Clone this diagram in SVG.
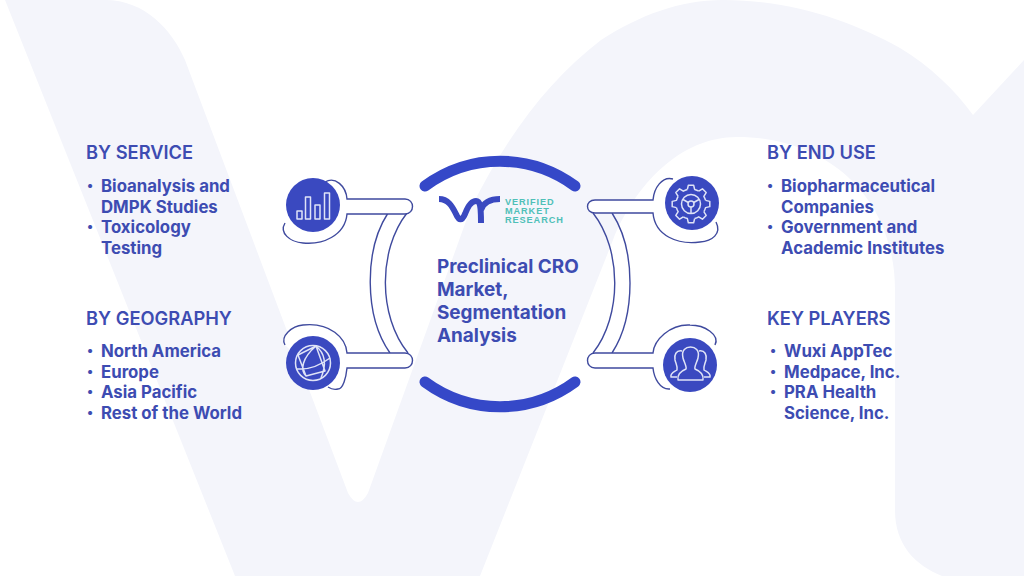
<svg xmlns="http://www.w3.org/2000/svg" xmlns:xlink="http://www.w3.org/1999/xlink" width="1024" height="576" viewBox="0 0 1024 576">
<style>
text{font-family:"Inter","Liberation Sans",sans-serif;fill:#3d4cb2}
.h{font-size:18.3px;font-weight:600}
.l{font-size:16.8px;font-weight:700}
.b{font-size:13px;font-weight:700}
.t{font-size:18.9px;font-weight:700}
.o{fill:#fff;stroke:#3f4a9e;stroke-width:1.4}
.n{fill:none;stroke:#3f4a9e;stroke-width:1.4}
.d{fill:#3a49c0}
.i{fill:none;stroke:#dfe3f7;stroke-width:1.5;stroke-linejoin:round}
.a{fill:none;stroke:#3548c8;stroke-width:11;stroke-linecap:round}
.v{font-family:"Liberation Sans",sans-serif;font-size:9.2px;letter-spacing:.9px;font-weight:700;fill:#4fc0b8}
</style>
<defs>
<path id="tooth" d="M14.55 -3.63L18.8 -2.64L18.8 2.64L14.55 3.63A15 15 0 0 1 12.86 7.73"/>
</defs>
<rect width="1024" height="576" fill="#fff"/>
<path id="bg" fill="#f4f5fb" d="M5 0H105C145 0 172 30 185 60L348 493Q358 511 368 493L470 210C507 135 549 80 601 40C640 15 680 0 723 0C790 0 850 20 900 48C930 66 955 90 973 115L1024 60V576H942C915 565 895 545 895 510V290C895 200 830 137 737 137C680 137 635 185 613 240L480 576H235Z"/>
<g id="connectors">
<path class="n" d="M388 213C364 250 364 316 390 353"/>
<path class="n" d="M407 213C378 250 378 316 408 353"/>
<path class="n" d="M593 213C622 250 622 316 593 353"/>
<path class="n" d="M612 213C636 250 636 316 612 353"/>
</g>
<g id="arcs">
<path class="a" d="M425 186C470 153 530 153 575 186"/>
<path class="a" d="M425 382C470 415 530 415 575 382"/>
</g>
<g id="node-service">
<path class="o" d="M325 182C335 176 346 186 347 199H405C415 199 415 214 405 214H347C345 236 322 245 303 243C290 242 279 233 285 223"/>
<circle class="d" cx="313" cy="205" r="27"/>
<path class="i" d="M297 219v-8h5v8zM305.500 219v-22h5v22zM315 219v-14h5v14zM324.500 219v-26h5v26z"/>
</g>
<g id="node-geography">
<path class="o" d="M285 345C280 336 292 326 303 325C330 322 346 338 347 353H405C415 353 415 368 405 368H347C346 378 343 389 338 389C334 390 331 389 328 387"/>
<circle class="d" cx="313" cy="363" r="27"/>
<g class="i"><circle cx="313" cy="363" r="17.500"/><path d="M298 355L316 346L325 371L306 376L298 355M316 346C302 358 300 370 306 376M297 369C310 370 322 364 330 358M316 346C326 354 326 366 321 378"/></g>
</g>
<g id="node-enduse">
<path class="o" d="M673 179C662 176 654 188 653 200H595C585 200 585 213 595 213H653C655 236 678 245 700 242C712 241 722 234 716 222"/>
<circle class="d" cx="692" cy="203" r="27"/>
<g class="i" transform="translate(691 204)">
<use xlink:href="#tooth" href="#tooth"/>
<use xlink:href="#tooth" href="#tooth" transform="rotate(45)"/>
<use xlink:href="#tooth" href="#tooth" transform="rotate(90)"/>
<use xlink:href="#tooth" href="#tooth" transform="rotate(135)"/>
<use xlink:href="#tooth" href="#tooth" transform="rotate(180)"/>
<use xlink:href="#tooth" href="#tooth" transform="rotate(225)"/>
<use xlink:href="#tooth" href="#tooth" transform="rotate(270)"/>
<use xlink:href="#tooth" href="#tooth" transform="rotate(315)"/>
<circle r="9.500"/><circle r="3"/><path d="M-8 -4.500L-2.700 -1.500M8 -4.500L2.700 -1.500M0 3V9.500"/>
</g>
</g>
<g id="node-players">
<path class="o" d="M715 345C720 335 705 325 690 325C670 324 654 340 653 353H595C585 353 585 368 595 368H653C654 378 660 390 670 389"/>
<circle class="d" cx="690" cy="365" r="27"/>
<g class="i"><path d="M678 380C677 374 681 371 686 369C687 367 684 362 683 358C681 350 686 347 690.500 347C695 347 700 350 698 358C697 362 694 367 695 369C700 371 704 374 703 380Z"/><path d="M682 351C676 350 674 355 675 360C676 364 678 367 677 370C674 372 670 373 671 377H677M699 351C705 350 707 355 706 360C705 364 703 367 704 370C707 372 711 373 710 377H704"/></g>
</g>
<g id="logo">
<path fill="none" stroke="#3a49c0" stroke-width="6" d="M439 199C448 199 452 206 456 214C459 221 462 221 465 214C468 206 471 201 476 201C480 201 481 206 481 223M481 210C483 203 490 199 500 199"/>
<text class="v" x="505" y="205">VERIFIED</text>
<text class="v" x="505" y="214">MARKET</text>
<text class="v" x="505" y="223">RESEARCH</text>
</g>
<g id="title">
<text class="t" x="437" y="272.500">Preclinical CRO</text>
<text class="t" x="437" y="295.500">Market,</text>
<text class="t" x="437" y="318.500">Segmentation</text>
<text class="t" x="437" y="341.500">Analysis</text>
</g>
<g id="by-service">
<text class="h" x="86" y="159">BY SERVICE</text>
<text class="b" x="87" y="190">•</text><text class="l" x="101" y="192">Bioanalysis and</text>
<text class="l" x="101" y="213">DMPK Studies</text>
<text class="b" x="87" y="231">•</text><text class="l" x="101" y="233">Toxicology</text>
<text class="l" x="101" y="254">Testing</text>
</g>
<g id="by-geography">
<text class="h" x="86" y="324.500">BY GEOGRAPHY</text>
<text class="b" x="87" y="355">•</text><text class="l" x="101" y="357">North America</text>
<text class="b" x="87" y="376">•</text><text class="l" x="101" y="378">Europe</text>
<text class="b" x="87" y="396">•</text><text class="l" x="101" y="398">Asia Pacific</text>
<text class="b" x="87" y="417">•</text><text class="l" x="101" y="419">Rest of the World</text>
</g>
<g id="by-end-use">
<text class="h" x="767" y="159">BY END USE</text>
<text class="b" x="767" y="190">•</text><text class="l" x="781" y="192">Biopharmaceutical</text>
<text class="l" x="781" y="213">Companies</text>
<text class="b" x="767" y="231">•</text><text class="l" x="781" y="233">Government and</text>
<text class="l" x="781" y="254">Academic Institutes</text>
</g>
<g id="key-players">
<text class="h" x="767" y="324.500">KEY PLAYERS</text>
<text class="b" x="770" y="355">•</text><text class="l" x="784" y="357">Wuxi AppTec</text>
<text class="b" x="770" y="376">•</text><text class="l" x="784" y="378">Medpace, Inc.</text>
<text class="b" x="770" y="396">•</text><text class="l" x="784" y="398">PRA Health</text>
<text class="l" x="784" y="419">Science, Inc.</text>
</g>
</svg>
